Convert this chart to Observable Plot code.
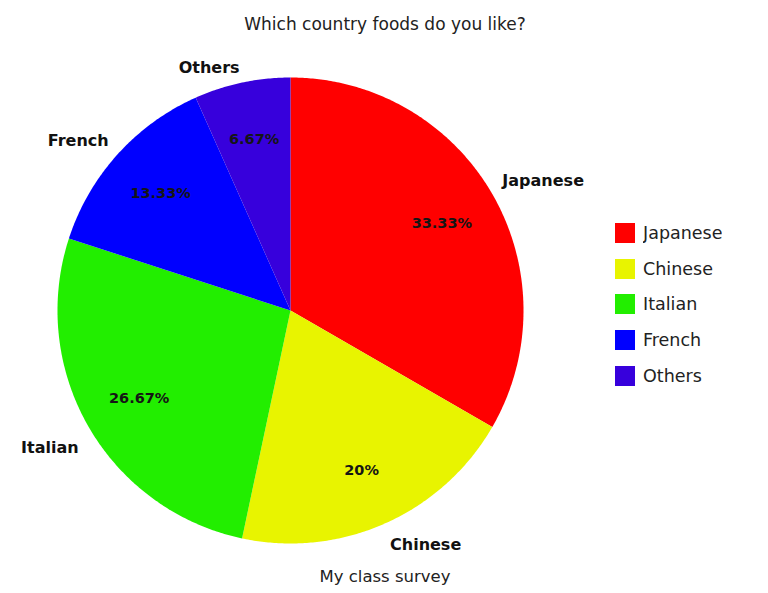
<!DOCTYPE html>
<html>
<head>
<meta charset="utf-8">
<script src="https://cdn.jsdelivr.net/npm/d3@7"></script>
<script src="https://cdn.jsdelivr.net/npm/@observablehq/plot@0.6"></script>
<style>
  html, body { margin: 0; padding: 0; background: #fff; }
  #wrap { position: relative; width: 768px; height: 593px; font-family: "DejaVu Sans", sans-serif; color: #222; }
  #title { position: absolute; left: 0; width: 770px; top: 14px; text-align: center; font-size: 17px; }
  #caption { position: absolute; left: 0; width: 770px; top: 567px; text-align: center; font-size: 16.5px; }
  #chart { position: absolute; left: 0; top: 48px; }
  #legend { position: absolute; left: 615px; top: 215px; }
  #legend div div { height: 35.7px; margin: 0; padding: 0; display: flex; align-items: center; }
  #legend svg { margin-right: 8px !important; }
</style>
</head>
<body>
<div id="wrap">
  <div id="title">Which country foods do you like?</div>
  <div id="chart"></div>
  <div id="legend"></div>
  <div id="caption">My class survey</div>
</div>
<script>
const categories = ["Japanese", "Chinese", "Italian", "French", "Others"];
const votes = [5, 3, 4, 2, 1];
const percentLabels = ["33.33%", "20%", "26.67%", "13.33%", "6.67%"];
const colors = ["#ff0000", "#e8f400", "#22ee00", "#0000ff", "#3700dc"];

const table = categories.map((name, i) => ({ name, votes: votes[i], pct: percentLabels[i] }));
const arcs = d3.pie().sort(null).value(d => d.votes)(table);

const slices = arcs.map(a => ({ ...a.data, start: a.startAngle, end: a.endAngle, mid: (a.startAngle + a.endAngle) / 2 }));

// polygon points for each wedge (unit radius)
const points = [];
for (const s of slices) {
  points.push({ name: s.name, x: 0, y: 0 });
  const n = Math.max(2, Math.ceil((s.end - s.start) / (Math.PI / 360)));
  for (let k = 0; k <= n; k++) {
    const a = s.start + (s.end - s.start) * k / n;
    points.push({ name: s.name, x: Math.sin(a), y: Math.cos(a) });
  }
  points.push({ name: s.name, x: 0, y: 0 });
}

const rIn = 0.75;
const lx = d => 1.05 * Math.sin(d.mid);
const ly = d => {
  const c = Math.cos(d.mid);
  if (d.mid < Math.PI) return 1.08 * c + (c < 0 ? -0.02 : 0.015);
  return c < 0 ? 1.08 * c - 0.05 : (c > 0.9 ? 1.08 * c - 0.013 : 1.08 * c + 0.005);
};
const chart = Plot.plot({
  width: 768,
  height: 515,
  margin: 0,
  style: { fontFamily: "DejaVu Sans, sans-serif", background: "transparent" },
  x: { domain: [-1, 1], range: [57, 523], axis: null },
  y: { domain: [-1, 1], range: [495, 29], axis: null },
  color: { domain: categories, range: colors },
  marks: [
    Plot.line(points, { x: "x", y: "y", z: "name", fill: "name", stroke: "none" }),
    Plot.text(slices, {
      x: d => rIn * Math.sin(d.mid), y: d => rIn * Math.cos(d.mid), text: "pct",
      fontWeight: "bold", fontSize: 14.5, fill: "#151515"
    }),
    Plot.text(slices.filter(d => d.mid < Math.PI), {
      x: lx, y: ly, text: "name",
      textAnchor: "start", fontWeight: "bold", fontSize: 16, fill: "#111"
    }),
    Plot.text(slices.filter(d => d.mid >= Math.PI), {
      x: lx, y: ly, text: "name",
      textAnchor: "end", fontWeight: "bold", fontSize: 16, fill: "#111"
    })
  ]
});
document.getElementById("chart").appendChild(chart);

const legend = Plot.legend({
  color: { domain: categories, range: colors },
  legend: "swatches",
  columns: 1,
  swatchSize: 20,
  style: { fontSize: "17.5px", fontFamily: "DejaVu Sans, sans-serif", color: "#222" }
});
document.getElementById("legend").appendChild(legend);
</script>
</body>
</html>
